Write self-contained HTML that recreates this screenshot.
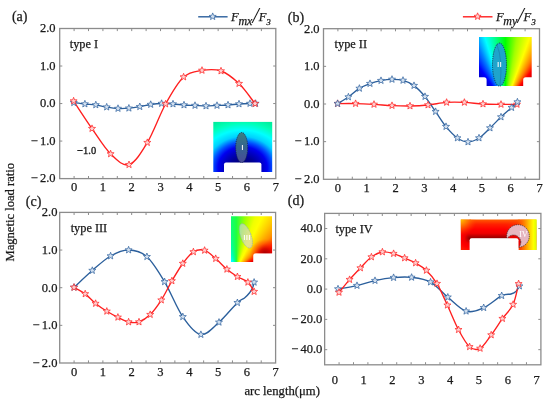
<!DOCTYPE html>
<html><head><meta charset="utf-8"><style>
html,body{margin:0;padding:0;background:#fff;}
#w{position:relative;width:550px;height:404px;overflow:hidden;background:#fff;}
.ins{position:absolute;}
svg{position:absolute;left:0;top:0;}
text{font-family:"Liberation Serif","Times New Roman",serif;fill:#1a1a1a;stroke:#1a1a1a;stroke-width:0.25px;}
.tl{font-size:12.5px;}
.pl{font-size:14px;}
.ty{font-size:12.3px;}
.lg{font-size:12.6px;font-style:italic;}
.sb{font-size:12px;font-style:italic;}
.sl{font-size:22.3px;font-style:italic;stroke:none;}
.s3{font-size:9px;font-style:italic;}
</style></head><body><div id="w">
<div class="ins" style="left:478.6px;top:36.7px;width:53.1px;height:49.5px;background:conic-gradient(from -60deg at 26.4px 67.3px,#00008f 0deg,#0000c0 15deg,#0000ff 25deg,#0080ff 35deg,#00ffff 43deg,#00ff80 52deg,#00ff00 60deg,#a0ff00 70deg,#ffff00 80deg,#ff8000 90deg,#ff0000 98deg,#c00000 107deg,#900000 120deg,#900000 240deg,#00008f 240deg);clip-path:path('M0,0 H53.1 V40.6 H47.1 A2.5,2.5 0 0 0 44.6,43.1 V49.5 H8 V43.1 A2.5,2.5 0 0 0 5.5,40.6 H0 Z');"></div>
<div class="ins" style="left:230.6px;top:216.2px;width:41.6px;height:46.1px;background:conic-gradient(from -60deg at 5.4px 53.8px,#00ffff 0deg,#00ffff 33deg,#00ffa0 48deg,#20ff40 60deg,#a0ff00 70deg,#f0ff00 80deg,#ffff00 86deg,#ffd000 95deg,#ff9000 106deg,#ff3000 115deg,#f00000 121deg,#c00000 128deg,#a00000 150deg,#a00000 360deg);clip-path:path('M0,0 H41.6 V37.1 H25.1 A2.5,2.5 0 0 0 22.6,39.6 V46.1 H0 Z');"></div>
<svg width="550" height="404" viewBox="0 0 550 404">
<!-- inset overlays -->
<defs>
<radialGradient id="ga" gradientUnits="userSpaceOnUse" cx="0" cy="0" r="1.45" gradientTransform="translate(242.7,168) scale(43.9,38)"><stop offset="0.0000" stop-color="#000060"/><stop offset="0.2069" stop-color="#000098"/><stop offset="0.3103" stop-color="#0000c8"/><stop offset="0.3862" stop-color="#0000f0"/><stop offset="0.4690" stop-color="#0050ff"/><stop offset="0.5724" stop-color="#00d0ff"/><stop offset="0.6897" stop-color="#00ffff"/><stop offset="0.8138" stop-color="#00ffb8"/><stop offset="0.9103" stop-color="#00f0a0"/><stop offset="1.0000" stop-color="#00e890"/></radialGradient>
<radialGradient id="gdl" gradientUnits="userSpaceOnUse" cx="469.6" cy="238.3" r="26"><stop offset="0.0000" stop-color="#900000"/><stop offset="0.0962" stop-color="#c00000"/><stop offset="0.1923" stop-color="#ee0000"/><stop offset="0.3462" stop-color="#ff0000"/><stop offset="0.5385" stop-color="#ff2000"/><stop offset="0.6923" stop-color="#ff5000"/><stop offset="0.7692" stop-color="#ff8000"/><stop offset="0.8846" stop-color="#ffb000"/><stop offset="1.0000" stop-color="#ffd000"/></radialGradient>
<radialGradient id="gdr" gradientUnits="userSpaceOnUse" cx="518.5" cy="238.3" r="26"><stop offset="0.0000" stop-color="#900000"/><stop offset="0.0962" stop-color="#c00000"/><stop offset="0.1923" stop-color="#ee0000"/><stop offset="0.3462" stop-color="#ff0000"/><stop offset="0.5385" stop-color="#ff2000"/><stop offset="0.6923" stop-color="#ff5000"/><stop offset="0.7692" stop-color="#ff8000"/><stop offset="0.8846" stop-color="#ffb000"/><stop offset="1.0000" stop-color="#ffd000"/></radialGradient>
<linearGradient id="gdm" gradientUnits="userSpaceOnUse" x1="0" y1="238.3" x2="0" y2="212.3"><stop offset="0.0000" stop-color="#900000"/><stop offset="0.0962" stop-color="#c00000"/><stop offset="0.1923" stop-color="#ee0000"/><stop offset="0.3462" stop-color="#ff0000"/><stop offset="0.5385" stop-color="#ff2000"/><stop offset="0.6923" stop-color="#ff5000"/><stop offset="0.7692" stop-color="#ff8000"/><stop offset="0.8846" stop-color="#ffb000"/><stop offset="1.0000" stop-color="#ffd000"/></linearGradient>
<linearGradient id="gdo" gradientUnits="userSpaceOnUse" x1="505" y1="0" x2="536.5" y2="0"><stop offset="0" stop-color="#ff4000" stop-opacity="0"/><stop offset="0.35" stop-color="#ff5000" stop-opacity="0.25"/><stop offset="0.55" stop-color="#ff7800" stop-opacity="0.8"/><stop offset="0.75" stop-color="#ffc000" stop-opacity="1"/><stop offset="0.9" stop-color="#ffff00" stop-opacity="1"/><stop offset="1" stop-color="#d8ff00" stop-opacity="1"/></linearGradient>
<radialGradient id="gdtl" gradientUnits="userSpaceOnUse" cx="460.8" cy="219.5" r="16"><stop offset="0" stop-color="#ffc800" stop-opacity="0.95"/><stop offset="0.45" stop-color="#ff9000" stop-opacity="0.6"/><stop offset="1" stop-color="#ff5000" stop-opacity="0"/></radialGradient>
<radialGradient id="gcn" gradientUnits="userSpaceOnUse" cx="265" cy="254" r="15"><stop offset="0" stop-color="#a00000" stop-opacity="1"/><stop offset="0.35" stop-color="#d00000" stop-opacity="0.85"/><stop offset="0.7" stop-color="#ff1000" stop-opacity="0.35"/><stop offset="1" stop-color="#ff2000" stop-opacity="0"/></radialGradient>
</defs>
<rect x="213.3" y="121.9" width="58.9" height="50.1" fill="url(#ga)"/>
<rect x="224" y="162.6" width="37.4" height="11" rx="2" fill="#fff"/>
<rect x="460.8" y="219.5" width="9.8" height="30.5" fill="url(#gdl)"/>
<rect x="518.5" y="219.5" width="18" height="30.5" fill="url(#gdr)"/>
<rect x="469.6" y="219.5" width="49.9" height="19.3" fill="url(#gdm)"/>
<rect x="505" y="219.5" width="31.5" height="30.5" fill="url(#gdo)"/>
<rect x="460.8" y="219.5" width="20" height="20" fill="url(#gdtl)"/>
<path d="M230.6,216.2 H272.2 V253.3 H255.7 A2.5,2.5 0 0 0 253.2,255.8 V262.3 H230.6 Z" fill="url(#gcn)"/>
<defs><linearGradient id="ea" x1="0" y1="0" x2="0" y2="1"><stop offset="0" stop-color="#3b8080"/><stop offset="0.5" stop-color="#36648f"/><stop offset="1" stop-color="#4a4a98"/></linearGradient></defs>
<ellipse cx="241.7" cy="147.5" rx="6" ry="15" fill="url(#ea)" stroke="#1a2a50" stroke-width="0.9" stroke-dasharray="1.2 1"/>
<text x="242.5" y="150" text-anchor="middle" style="font-family:'Liberation Sans',sans-serif;font-size:6.5px;fill:#fff;stroke:none;font-weight:bold">I</text>
<ellipse cx="499.5" cy="64.6" rx="7" ry="21.5" fill="#1ea4cc" stroke="#1a2a50" stroke-width="0.9" stroke-dasharray="1.2 1"/>
<path d="M497,45 Q503,60 500,85" stroke="#1a7aa8" stroke-width="0.6" fill="none"/>
<text x="499.7" y="67" text-anchor="middle" style="font-family:'Liberation Sans',sans-serif;font-size:6.5px;fill:#fff;stroke:none;font-weight:bold;letter-spacing:0.6px">II</text>
<ellipse cx="245.9" cy="235.9" rx="5.2" ry="12.8" transform="rotate(-20 245.9 235.9)" fill="#d4d4e0" fill-opacity="0.62" stroke="#8aa8c8" stroke-width="0.7" stroke-dasharray="1 0.8"/>
<text x="247.3" y="239.5" text-anchor="middle" style="font-family:'Liberation Sans',sans-serif;font-size:6.5px;fill:#fff;stroke:none;font-weight:bold;letter-spacing:0.8px">III</text>
<circle cx="518" cy="236" r="11.3" fill="#e6b6c0" stroke="#333" stroke-width="0.8" stroke-dasharray="1.2 1"/>
<circle cx="513.5" cy="242.3" r="7.3" fill="#e80000" stroke="#333" stroke-width="0.8" stroke-dasharray="1.2 1"/>
<rect x="469.6" y="238.3" width="48.9" height="13" rx="2" fill="#fff"/>
<text x="523.5" y="237" text-anchor="middle" style="font-size:8.5px;fill:#fff;stroke:none">IV</text>
<rect x="59.7" y="28.5" width="216.1" height="150.1" fill="none" stroke="#8c8c8c" stroke-width="1.3"/>
<path d="M74.1,178.6 v-2.6 M74.1,28.5 v2.6 M88.5,178.6 v-2.6 M88.5,28.5 v2.6 M102.91,178.6 v-2.6 M102.91,28.5 v2.6 M117.31,178.6 v-2.6 M117.31,28.5 v2.6 M131.72,178.6 v-2.6 M131.72,28.5 v2.6 M146.12,178.6 v-2.6 M146.12,28.5 v2.6 M160.53,178.6 v-2.6 M160.53,28.5 v2.6 M174.94,178.6 v-2.6 M174.94,28.5 v2.6 M189.34,178.6 v-2.6 M189.34,28.5 v2.6 M203.74,178.6 v-2.6 M203.74,28.5 v2.6 M218.15,178.6 v-2.6 M218.15,28.5 v2.6 M232.55,178.6 v-2.6 M232.55,28.5 v2.6 M246.96,178.6 v-2.6 M246.96,28.5 v2.6 M261.37,178.6 v-2.6 M261.37,28.5 v2.6 M59.7,66.03 h2.6 M275.8,66.03 h-2.6 M59.7,103.55 h2.6 M275.8,103.55 h-2.6 M59.7,141.07 h2.6 M275.8,141.07 h-2.6" stroke="#8c8c8c" stroke-width="1" fill="none"/>
<text x="74.1" y="191.4" text-anchor="middle" class="tl">0</text>
<text x="102.91" y="191.4" text-anchor="middle" class="tl">1</text>
<text x="131.72" y="191.4" text-anchor="middle" class="tl">2</text>
<text x="160.53" y="191.4" text-anchor="middle" class="tl">3</text>
<text x="189.34" y="191.4" text-anchor="middle" class="tl">4</text>
<text x="218.15" y="191.4" text-anchor="middle" class="tl">5</text>
<text x="246.96" y="191.4" text-anchor="middle" class="tl">6</text>
<text x="275.77" y="191.4" text-anchor="middle" class="tl">7</text>
<text x="55.6" y="32.3" text-anchor="end" class="tl">2.0</text>
<text x="55.6" y="69.83" text-anchor="end" class="tl">1.0</text>
<text x="55.6" y="107.35" text-anchor="end" class="tl">0.0</text>
<text x="55.6" y="144.88" text-anchor="end" class="tl">−<tspan dx="2.2">1.0</tspan></text>
<text x="55.6" y="182.4" text-anchor="end" class="tl">−<tspan dx="2.2">2.0</tspan></text>
<rect x="323.5" y="28.7" width="216" height="150.6" fill="none" stroke="#8c8c8c" stroke-width="1.3"/>
<path d="M337.9,179.3 v-2.6 M337.9,28.7 v2.6 M352.3,179.3 v-2.6 M352.3,28.7 v2.6 M366.7,179.3 v-2.6 M366.7,28.7 v2.6 M381.1,179.3 v-2.6 M381.1,28.7 v2.6 M395.5,179.3 v-2.6 M395.5,28.7 v2.6 M409.9,179.3 v-2.6 M409.9,28.7 v2.6 M424.3,179.3 v-2.6 M424.3,28.7 v2.6 M438.7,179.3 v-2.6 M438.7,28.7 v2.6 M453.1,179.3 v-2.6 M453.1,28.7 v2.6 M467.5,179.3 v-2.6 M467.5,28.7 v2.6 M481.9,179.3 v-2.6 M481.9,28.7 v2.6 M496.3,179.3 v-2.6 M496.3,28.7 v2.6 M510.7,179.3 v-2.6 M510.7,28.7 v2.6 M525.1,179.3 v-2.6 M525.1,28.7 v2.6 M323.5,66.35 h2.6 M539.5,66.35 h-2.6 M323.5,104 h2.6 M539.5,104 h-2.6 M323.5,141.65 h2.6 M539.5,141.65 h-2.6" stroke="#8c8c8c" stroke-width="1" fill="none"/>
<text x="337.9" y="191.7" text-anchor="middle" class="tl">0</text>
<text x="366.7" y="191.7" text-anchor="middle" class="tl">1</text>
<text x="395.5" y="191.7" text-anchor="middle" class="tl">2</text>
<text x="424.3" y="191.7" text-anchor="middle" class="tl">3</text>
<text x="453.1" y="191.7" text-anchor="middle" class="tl">4</text>
<text x="481.9" y="191.7" text-anchor="middle" class="tl">5</text>
<text x="510.7" y="191.7" text-anchor="middle" class="tl">6</text>
<text x="539.5" y="191.7" text-anchor="middle" class="tl">7</text>
<text x="319.5" y="32.5" text-anchor="end" class="tl">2.0</text>
<text x="319.5" y="70.15" text-anchor="end" class="tl">1.0</text>
<text x="319.5" y="107.8" text-anchor="end" class="tl">0.0</text>
<text x="319.5" y="145.45" text-anchor="end" class="tl">−<tspan dx="2.2">1.0</tspan></text>
<text x="319.5" y="183.1" text-anchor="end" class="tl">−<tspan dx="2.2">2.0</tspan></text>
<rect x="59.7" y="212.4" width="215.9" height="150.6" fill="none" stroke="#8c8c8c" stroke-width="1.3"/>
<path d="M74.09,363 v-2.6 M74.09,212.4 v2.6 M88.48,363 v-2.6 M88.48,212.4 v2.6 M102.88,363 v-2.6 M102.88,212.4 v2.6 M117.28,363 v-2.6 M117.28,212.4 v2.6 M131.67,363 v-2.6 M131.67,212.4 v2.6 M146.06,363 v-2.6 M146.06,212.4 v2.6 M160.46,363 v-2.6 M160.46,212.4 v2.6 M174.86,363 v-2.6 M174.86,212.4 v2.6 M189.25,363 v-2.6 M189.25,212.4 v2.6 M203.65,363 v-2.6 M203.65,212.4 v2.6 M218.04,363 v-2.6 M218.04,212.4 v2.6 M232.44,363 v-2.6 M232.44,212.4 v2.6 M246.83,363 v-2.6 M246.83,212.4 v2.6 M261.23,363 v-2.6 M261.23,212.4 v2.6 M59.7,250.05 h2.6 M275.6,250.05 h-2.6 M59.7,287.7 h2.6 M275.6,287.7 h-2.6 M59.7,325.35 h2.6 M275.6,325.35 h-2.6" stroke="#8c8c8c" stroke-width="1" fill="none"/>
<text x="74.09" y="375.8" text-anchor="middle" class="tl">0</text>
<text x="102.88" y="375.8" text-anchor="middle" class="tl">1</text>
<text x="131.67" y="375.8" text-anchor="middle" class="tl">2</text>
<text x="160.46" y="375.8" text-anchor="middle" class="tl">3</text>
<text x="189.25" y="375.8" text-anchor="middle" class="tl">4</text>
<text x="218.04" y="375.8" text-anchor="middle" class="tl">5</text>
<text x="246.83" y="375.8" text-anchor="middle" class="tl">6</text>
<text x="275.62" y="375.8" text-anchor="middle" class="tl">7</text>
<text x="57.4" y="216.2" text-anchor="end" class="tl">2.0</text>
<text x="57.4" y="253.85" text-anchor="end" class="tl">1.0</text>
<text x="57.4" y="291.5" text-anchor="end" class="tl">0.0</text>
<text x="57.4" y="329.15" text-anchor="end" class="tl">−<tspan dx="2.2">1.0</tspan></text>
<text x="57.4" y="366.8" text-anchor="end" class="tl">−<tspan dx="2.2">2.0</tspan></text>
<rect x="324.65" y="213.4" width="216.25" height="151.4" fill="none" stroke="#8c8c8c" stroke-width="1.3"/>
<path d="M339.07,364.8 v-2.6 M339.07,213.4 v2.6 M353.49,364.8 v-2.6 M353.49,213.4 v2.6 M367.9,364.8 v-2.6 M367.9,213.4 v2.6 M382.31,364.8 v-2.6 M382.31,213.4 v2.6 M396.73,364.8 v-2.6 M396.73,213.4 v2.6 M411.14,364.8 v-2.6 M411.14,213.4 v2.6 M425.56,364.8 v-2.6 M425.56,213.4 v2.6 M439.98,364.8 v-2.6 M439.98,213.4 v2.6 M454.39,364.8 v-2.6 M454.39,213.4 v2.6 M468.8,364.8 v-2.6 M468.8,213.4 v2.6 M483.22,364.8 v-2.6 M483.22,213.4 v2.6 M497.63,364.8 v-2.6 M497.63,213.4 v2.6 M512.05,364.8 v-2.6 M512.05,213.4 v2.6 M526.46,364.8 v-2.6 M526.46,213.4 v2.6 M324.65,228.54 h2.6 M540.9,228.54 h-2.6 M324.65,258.82 h2.6 M540.9,258.82 h-2.6 M324.65,289.1 h2.6 M540.9,289.1 h-2.6 M324.65,319.38 h2.6 M540.9,319.38 h-2.6 M324.65,349.66 h2.6 M540.9,349.66 h-2.6" stroke="#8c8c8c" stroke-width="1" fill="none"/>
<text x="334.77" y="384" text-anchor="middle" class="tl">0</text>
<text x="363.6" y="384" text-anchor="middle" class="tl">1</text>
<text x="392.43" y="384" text-anchor="middle" class="tl">2</text>
<text x="421.26" y="384" text-anchor="middle" class="tl">3</text>
<text x="450.09" y="384" text-anchor="middle" class="tl">4</text>
<text x="478.92" y="384" text-anchor="middle" class="tl">5</text>
<text x="507.75" y="384" text-anchor="middle" class="tl">6</text>
<text x="536.58" y="384" text-anchor="middle" class="tl">7</text>
<text x="322.35" y="232.34" text-anchor="end" class="tl">40.0</text>
<text x="322.35" y="262.62" text-anchor="end" class="tl">20.0</text>
<text x="322.35" y="292.9" text-anchor="end" class="tl">0.0</text>
<text x="322.35" y="323.18" text-anchor="end" class="tl">−<tspan dx="2.2">20.0</tspan></text>
<text x="322.35" y="353.46" text-anchor="end" class="tl">−<tspan dx="2.2">40.0</tspan></text>
<path d="M73.8,102.7 C75.65,102.92 81.23,103.63 84.9,104 C88.57,104.37 92.17,104.38 95.8,104.9 C99.43,105.42 103,106.5 106.7,107.1 C110.4,107.7 114.3,108.32 118,108.5 C121.7,108.68 125.27,108.5 128.9,108.2 C132.53,107.9 136.17,107.32 139.8,106.7 C143.43,106.08 147.07,105.03 150.7,104.5 C154.33,103.97 157.88,103.58 161.6,103.5 C165.32,103.42 169.27,103.75 173,104 C176.73,104.25 180.33,104.75 184,105 C187.67,105.25 191.33,105.33 195,105.5 C198.67,105.67 202.33,106 206,106 C209.67,106 213.33,105.67 217,105.5 C220.67,105.33 224.33,105.25 228,105 C231.67,104.75 235.33,104.25 239,104 C242.67,103.75 247.23,103.58 250,103.5 C252.77,103.42 254.67,103.5 255.6,103.5" fill="none" stroke="#2b5f9c" stroke-width="1.35" stroke-linejoin="round"/>
<path d="M73.6,101 C76.67,105.6 85.83,119.78 92,128.6 C98.17,137.42 104.43,147.88 110.6,153.9 C116.77,159.92 122.88,166.58 129,164.7 C135.12,162.82 141.2,152.72 147.3,142.6 C153.4,132.48 159.55,114.93 165.6,104 C171.65,93.07 177.53,82.6 183.6,77 C189.67,71.4 195.77,71.4 202,70.4 C208.23,69.4 214.83,68.8 221,71 C227.17,73.2 233.33,78.17 239,83.6 C244.67,89.03 252.33,100.27 255,103.6" fill="none" stroke="#ff1f1f" stroke-width="1.35" stroke-linejoin="round"/>
<polygon points="73.8,99 74.74,101.41 77.32,101.56 75.32,103.19 75.97,105.69 73.8,104.3 71.63,105.69 72.28,103.19 70.28,101.56 72.86,101.41" fill="#d2e0f0" stroke="#2b5f9c" stroke-width="0.7"/>
<polygon points="84.9,100.3 85.84,102.71 88.42,102.86 86.42,104.49 87.07,106.99 84.9,105.6 82.73,106.99 83.38,104.49 81.38,102.86 83.96,102.71" fill="#d2e0f0" stroke="#2b5f9c" stroke-width="0.7"/>
<polygon points="95.8,101.2 96.74,103.61 99.32,103.76 97.32,105.39 97.97,107.89 95.8,106.5 93.63,107.89 94.28,105.39 92.28,103.76 94.86,103.61" fill="#d2e0f0" stroke="#2b5f9c" stroke-width="0.7"/>
<polygon points="106.7,103.4 107.64,105.81 110.22,105.96 108.22,107.59 108.87,110.09 106.7,108.7 104.53,110.09 105.18,107.59 103.18,105.96 105.76,105.81" fill="#d2e0f0" stroke="#2b5f9c" stroke-width="0.7"/>
<polygon points="118,104.8 118.94,107.21 121.52,107.36 119.52,108.99 120.17,111.49 118,110.1 115.83,111.49 116.48,108.99 114.48,107.36 117.06,107.21" fill="#d2e0f0" stroke="#2b5f9c" stroke-width="0.7"/>
<polygon points="128.9,104.5 129.84,106.91 132.42,107.06 130.42,108.69 131.07,111.19 128.9,109.8 126.73,111.19 127.38,108.69 125.38,107.06 127.96,106.91" fill="#d2e0f0" stroke="#2b5f9c" stroke-width="0.7"/>
<polygon points="139.8,103 140.74,105.41 143.32,105.56 141.32,107.19 141.97,109.69 139.8,108.3 137.63,109.69 138.28,107.19 136.28,105.56 138.86,105.41" fill="#d2e0f0" stroke="#2b5f9c" stroke-width="0.7"/>
<polygon points="150.7,100.8 151.64,103.21 154.22,103.36 152.22,104.99 152.87,107.49 150.7,106.1 148.53,107.49 149.18,104.99 147.18,103.36 149.76,103.21" fill="#d2e0f0" stroke="#2b5f9c" stroke-width="0.7"/>
<polygon points="161.6,99.8 162.54,102.21 165.12,102.36 163.12,103.99 163.77,106.49 161.6,105.1 159.43,106.49 160.08,103.99 158.08,102.36 160.66,102.21" fill="#d2e0f0" stroke="#2b5f9c" stroke-width="0.7"/>
<polygon points="173,100.3 173.94,102.71 176.52,102.86 174.52,104.49 175.17,106.99 173,105.6 170.83,106.99 171.48,104.49 169.48,102.86 172.06,102.71" fill="#d2e0f0" stroke="#2b5f9c" stroke-width="0.7"/>
<polygon points="184,101.3 184.94,103.71 187.52,103.86 185.52,105.49 186.17,107.99 184,106.6 181.83,107.99 182.48,105.49 180.48,103.86 183.06,103.71" fill="#d2e0f0" stroke="#2b5f9c" stroke-width="0.7"/>
<polygon points="195,101.8 195.94,104.21 198.52,104.36 196.52,105.99 197.17,108.49 195,107.1 192.83,108.49 193.48,105.99 191.48,104.36 194.06,104.21" fill="#d2e0f0" stroke="#2b5f9c" stroke-width="0.7"/>
<polygon points="206,102.3 206.94,104.71 209.52,104.86 207.52,106.49 208.17,108.99 206,107.6 203.83,108.99 204.48,106.49 202.48,104.86 205.06,104.71" fill="#d2e0f0" stroke="#2b5f9c" stroke-width="0.7"/>
<polygon points="217,101.8 217.94,104.21 220.52,104.36 218.52,105.99 219.17,108.49 217,107.1 214.83,108.49 215.48,105.99 213.48,104.36 216.06,104.21" fill="#d2e0f0" stroke="#2b5f9c" stroke-width="0.7"/>
<polygon points="228,101.3 228.94,103.71 231.52,103.86 229.52,105.49 230.17,107.99 228,106.6 225.83,107.99 226.48,105.49 224.48,103.86 227.06,103.71" fill="#d2e0f0" stroke="#2b5f9c" stroke-width="0.7"/>
<polygon points="239,100.3 239.94,102.71 242.52,102.86 240.52,104.49 241.17,106.99 239,105.6 236.83,106.99 237.48,104.49 235.48,102.86 238.06,102.71" fill="#d2e0f0" stroke="#2b5f9c" stroke-width="0.7"/>
<polygon points="250,99.8 250.94,102.21 253.52,102.36 251.52,103.99 252.17,106.49 250,105.1 247.83,106.49 248.48,103.99 246.48,102.36 249.06,102.21" fill="#d2e0f0" stroke="#2b5f9c" stroke-width="0.7"/>
<polygon points="255.6,99.8 256.54,102.21 259.12,102.36 257.12,103.99 257.77,106.49 255.6,105.1 253.43,106.49 254.08,103.99 252.08,102.36 254.66,102.21" fill="#d2e0f0" stroke="#2b5f9c" stroke-width="0.7"/>
<polygon points="73.6,97.3 74.54,99.71 77.12,99.86 75.12,101.49 75.77,103.99 73.6,102.6 71.43,103.99 72.08,101.49 70.08,99.86 72.66,99.71" fill="#ffd0d0" stroke="#ff1f1f" stroke-width="0.7"/>
<polygon points="92,124.9 92.94,127.31 95.52,127.46 93.52,129.09 94.17,131.59 92,130.2 89.83,131.59 90.48,129.09 88.48,127.46 91.06,127.31" fill="#ffd0d0" stroke="#ff1f1f" stroke-width="0.7"/>
<polygon points="110.6,150.2 111.54,152.61 114.12,152.76 112.12,154.39 112.77,156.89 110.6,155.5 108.43,156.89 109.08,154.39 107.08,152.76 109.66,152.61" fill="#ffd0d0" stroke="#ff1f1f" stroke-width="0.7"/>
<polygon points="129,161 129.94,163.41 132.52,163.56 130.52,165.19 131.17,167.69 129,166.3 126.83,167.69 127.48,165.19 125.48,163.56 128.06,163.41" fill="#ffd0d0" stroke="#ff1f1f" stroke-width="0.7"/>
<polygon points="147.3,138.9 148.24,141.31 150.82,141.46 148.82,143.09 149.47,145.59 147.3,144.2 145.13,145.59 145.78,143.09 143.78,141.46 146.36,141.31" fill="#ffd0d0" stroke="#ff1f1f" stroke-width="0.7"/>
<polygon points="165.6,100.3 166.54,102.71 169.12,102.86 167.12,104.49 167.77,106.99 165.6,105.6 163.43,106.99 164.08,104.49 162.08,102.86 164.66,102.71" fill="#ffd0d0" stroke="#ff1f1f" stroke-width="0.7"/>
<polygon points="183.6,73.3 184.54,75.71 187.12,75.86 185.12,77.49 185.77,79.99 183.6,78.6 181.43,79.99 182.08,77.49 180.08,75.86 182.66,75.71" fill="#ffd0d0" stroke="#ff1f1f" stroke-width="0.7"/>
<polygon points="202,66.7 202.94,69.11 205.52,69.26 203.52,70.89 204.17,73.39 202,72 199.83,73.39 200.48,70.89 198.48,69.26 201.06,69.11" fill="#ffd0d0" stroke="#ff1f1f" stroke-width="0.7"/>
<polygon points="221,67.3 221.94,69.71 224.52,69.86 222.52,71.49 223.17,73.99 221,72.6 218.83,73.99 219.48,71.49 217.48,69.86 220.06,69.71" fill="#ffd0d0" stroke="#ff1f1f" stroke-width="0.7"/>
<polygon points="239,79.9 239.94,82.31 242.52,82.46 240.52,84.09 241.17,86.59 239,85.2 236.83,86.59 237.48,84.09 235.48,82.46 238.06,82.31" fill="#ffd0d0" stroke="#ff1f1f" stroke-width="0.7"/>
<polygon points="255,99.9 255.94,102.31 258.52,102.46 256.52,104.09 257.17,106.59 255,105.2 252.83,106.59 253.48,104.09 251.48,102.46 254.06,102.31" fill="#ffd0d0" stroke="#ff1f1f" stroke-width="0.7"/>
<path d="M337.6,103.6 C340.6,103.6 349.53,103.47 355.6,103.6 C361.67,103.73 367.93,104.07 374,104.4 C380.07,104.73 386,105.33 392,105.6 C398,105.87 404,106.1 410,106 C416,105.9 421.9,105.6 428,105 C434.1,104.4 440.53,102.83 446.6,102.4 C452.67,101.97 458.33,102.13 464.4,102.4 C470.47,102.67 476.9,103.67 483,104 C489.1,104.33 495.33,104.33 501,104.4 C506.67,104.47 514.33,104.4 517,104.4" fill="none" stroke="#ff1f1f" stroke-width="1.35" stroke-linejoin="round"/>
<path d="M337.6,103.6 C339.4,102.5 344.77,99.53 348.4,97 C352.03,94.47 355.8,90.63 359.4,88.4 C363,86.17 366.4,84.9 370,83.6 C373.6,82.3 377.33,81.3 381,80.6 C384.67,79.9 388.33,79.43 392,79.4 C395.67,79.37 399.33,79.37 403,80.4 C406.67,81.43 410.33,82.9 414,85.6 C417.67,88.3 421.4,92.27 425,96.6 C428.6,100.93 432.1,106.6 435.6,111.6 C439.1,116.6 442.37,122.2 446,126.6 C449.63,131 453.73,135.43 457.4,138 C461.07,140.57 464.4,142 468,142 C471.6,142 475.33,140.33 479,138 C482.67,135.67 486.33,131.5 490,128 C493.67,124.5 497.4,120.4 501,117 C504.6,113.6 508.87,110.1 511.6,107.6 C514.33,105.1 516.43,102.93 517.4,102" fill="none" stroke="#2b5f9c" stroke-width="1.35" stroke-linejoin="round"/>
<polygon points="337.6,99.9 338.54,102.31 341.12,102.46 339.12,104.09 339.77,106.59 337.6,105.2 335.43,106.59 336.08,104.09 334.08,102.46 336.66,102.31" fill="#ffd0d0" stroke="#ff1f1f" stroke-width="0.7"/>
<polygon points="355.6,99.9 356.54,102.31 359.12,102.46 357.12,104.09 357.77,106.59 355.6,105.2 353.43,106.59 354.08,104.09 352.08,102.46 354.66,102.31" fill="#ffd0d0" stroke="#ff1f1f" stroke-width="0.7"/>
<polygon points="374,100.7 374.94,103.11 377.52,103.26 375.52,104.89 376.17,107.39 374,106 371.83,107.39 372.48,104.89 370.48,103.26 373.06,103.11" fill="#ffd0d0" stroke="#ff1f1f" stroke-width="0.7"/>
<polygon points="392,101.9 392.94,104.31 395.52,104.46 393.52,106.09 394.17,108.59 392,107.2 389.83,108.59 390.48,106.09 388.48,104.46 391.06,104.31" fill="#ffd0d0" stroke="#ff1f1f" stroke-width="0.7"/>
<polygon points="410,102.3 410.94,104.71 413.52,104.86 411.52,106.49 412.17,108.99 410,107.6 407.83,108.99 408.48,106.49 406.48,104.86 409.06,104.71" fill="#ffd0d0" stroke="#ff1f1f" stroke-width="0.7"/>
<polygon points="428,101.3 428.94,103.71 431.52,103.86 429.52,105.49 430.17,107.99 428,106.6 425.83,107.99 426.48,105.49 424.48,103.86 427.06,103.71" fill="#ffd0d0" stroke="#ff1f1f" stroke-width="0.7"/>
<polygon points="446.6,98.7 447.54,101.11 450.12,101.26 448.12,102.89 448.77,105.39 446.6,104 444.43,105.39 445.08,102.89 443.08,101.26 445.66,101.11" fill="#ffd0d0" stroke="#ff1f1f" stroke-width="0.7"/>
<polygon points="464.4,98.7 465.34,101.11 467.92,101.26 465.92,102.89 466.57,105.39 464.4,104 462.23,105.39 462.88,102.89 460.88,101.26 463.46,101.11" fill="#ffd0d0" stroke="#ff1f1f" stroke-width="0.7"/>
<polygon points="483,100.3 483.94,102.71 486.52,102.86 484.52,104.49 485.17,106.99 483,105.6 480.83,106.99 481.48,104.49 479.48,102.86 482.06,102.71" fill="#ffd0d0" stroke="#ff1f1f" stroke-width="0.7"/>
<polygon points="501,100.7 501.94,103.11 504.52,103.26 502.52,104.89 503.17,107.39 501,106 498.83,107.39 499.48,104.89 497.48,103.26 500.06,103.11" fill="#ffd0d0" stroke="#ff1f1f" stroke-width="0.7"/>
<polygon points="517,100.7 517.94,103.11 520.52,103.26 518.52,104.89 519.17,107.39 517,106 514.83,107.39 515.48,104.89 513.48,103.26 516.06,103.11" fill="#ffd0d0" stroke="#ff1f1f" stroke-width="0.7"/>
<polygon points="337.6,99.9 338.54,102.31 341.12,102.46 339.12,104.09 339.77,106.59 337.6,105.2 335.43,106.59 336.08,104.09 334.08,102.46 336.66,102.31" fill="#d2e0f0" stroke="#2b5f9c" stroke-width="0.7"/>
<polygon points="348.4,93.3 349.34,95.71 351.92,95.86 349.92,97.49 350.57,99.99 348.4,98.6 346.23,99.99 346.88,97.49 344.88,95.86 347.46,95.71" fill="#d2e0f0" stroke="#2b5f9c" stroke-width="0.7"/>
<polygon points="359.4,84.7 360.34,87.11 362.92,87.26 360.92,88.89 361.57,91.39 359.4,90 357.23,91.39 357.88,88.89 355.88,87.26 358.46,87.11" fill="#d2e0f0" stroke="#2b5f9c" stroke-width="0.7"/>
<polygon points="370,79.9 370.94,82.31 373.52,82.46 371.52,84.09 372.17,86.59 370,85.2 367.83,86.59 368.48,84.09 366.48,82.46 369.06,82.31" fill="#d2e0f0" stroke="#2b5f9c" stroke-width="0.7"/>
<polygon points="381,76.9 381.94,79.31 384.52,79.46 382.52,81.09 383.17,83.59 381,82.2 378.83,83.59 379.48,81.09 377.48,79.46 380.06,79.31" fill="#d2e0f0" stroke="#2b5f9c" stroke-width="0.7"/>
<polygon points="392,75.7 392.94,78.11 395.52,78.26 393.52,79.89 394.17,82.39 392,81 389.83,82.39 390.48,79.89 388.48,78.26 391.06,78.11" fill="#d2e0f0" stroke="#2b5f9c" stroke-width="0.7"/>
<polygon points="403,76.7 403.94,79.11 406.52,79.26 404.52,80.89 405.17,83.39 403,82 400.83,83.39 401.48,80.89 399.48,79.26 402.06,79.11" fill="#d2e0f0" stroke="#2b5f9c" stroke-width="0.7"/>
<polygon points="414,81.9 414.94,84.31 417.52,84.46 415.52,86.09 416.17,88.59 414,87.2 411.83,88.59 412.48,86.09 410.48,84.46 413.06,84.31" fill="#d2e0f0" stroke="#2b5f9c" stroke-width="0.7"/>
<polygon points="425,92.9 425.94,95.31 428.52,95.46 426.52,97.09 427.17,99.59 425,98.2 422.83,99.59 423.48,97.09 421.48,95.46 424.06,95.31" fill="#d2e0f0" stroke="#2b5f9c" stroke-width="0.7"/>
<polygon points="435.6,107.9 436.54,110.31 439.12,110.46 437.12,112.09 437.77,114.59 435.6,113.2 433.43,114.59 434.08,112.09 432.08,110.46 434.66,110.31" fill="#d2e0f0" stroke="#2b5f9c" stroke-width="0.7"/>
<polygon points="446,122.9 446.94,125.31 449.52,125.46 447.52,127.09 448.17,129.59 446,128.2 443.83,129.59 444.48,127.09 442.48,125.46 445.06,125.31" fill="#d2e0f0" stroke="#2b5f9c" stroke-width="0.7"/>
<polygon points="457.4,134.3 458.34,136.71 460.92,136.86 458.92,138.49 459.57,140.99 457.4,139.6 455.23,140.99 455.88,138.49 453.88,136.86 456.46,136.71" fill="#d2e0f0" stroke="#2b5f9c" stroke-width="0.7"/>
<polygon points="468,138.3 468.94,140.71 471.52,140.86 469.52,142.49 470.17,144.99 468,143.6 465.83,144.99 466.48,142.49 464.48,140.86 467.06,140.71" fill="#d2e0f0" stroke="#2b5f9c" stroke-width="0.7"/>
<polygon points="479,134.3 479.94,136.71 482.52,136.86 480.52,138.49 481.17,140.99 479,139.6 476.83,140.99 477.48,138.49 475.48,136.86 478.06,136.71" fill="#d2e0f0" stroke="#2b5f9c" stroke-width="0.7"/>
<polygon points="490,124.3 490.94,126.71 493.52,126.86 491.52,128.49 492.17,130.99 490,129.6 487.83,130.99 488.48,128.49 486.48,126.86 489.06,126.71" fill="#d2e0f0" stroke="#2b5f9c" stroke-width="0.7"/>
<polygon points="501,113.3 501.94,115.71 504.52,115.86 502.52,117.49 503.17,119.99 501,118.6 498.83,119.99 499.48,117.49 497.48,115.86 500.06,115.71" fill="#d2e0f0" stroke="#2b5f9c" stroke-width="0.7"/>
<polygon points="511.6,103.9 512.54,106.31 515.12,106.46 513.12,108.09 513.77,110.59 511.6,109.2 509.43,110.59 510.08,108.09 508.08,106.46 510.66,106.31" fill="#d2e0f0" stroke="#2b5f9c" stroke-width="0.7"/>
<polygon points="517.4,98.3 518.34,100.71 520.92,100.86 518.92,102.49 519.57,104.99 517.4,103.6 515.23,104.99 515.88,102.49 513.88,100.86 516.46,100.71" fill="#d2e0f0" stroke="#2b5f9c" stroke-width="0.7"/>
<path d="M74,287.4 C77.05,284.58 86.2,275.73 92.3,270.5 C98.4,265.27 104.55,259.42 110.6,256 C116.65,252.58 122.55,249.88 128.6,250 C134.65,250.12 140.9,251.4 146.9,256.7 C152.9,262 158.62,271.78 164.6,281.8 C170.58,291.82 176.75,308 182.8,316.8 C188.85,325.6 194.87,333.68 200.9,334.6 C206.93,335.52 212.92,327.62 219,322.3 C225.08,316.98 233.15,306.75 237.4,302.7 C241.65,298.65 242.43,299.7 244.5,298 C246.57,296.3 248.4,294.33 249.8,292.5 C251.2,290.67 252.18,288.7 252.9,287 C253.62,285.3 253.9,283.08 254.1,282.3" fill="none" stroke="#2b5f9c" stroke-width="1.35" stroke-linejoin="round"/>
<path d="M74,287.4 C75.87,288.48 81.6,291.22 85.2,293.9 C88.8,296.58 92,300.6 95.6,303.5 C99.2,306.4 103.08,309 106.8,311.3 C110.52,313.6 114.27,315.52 117.9,317.3 C121.53,319.08 125.08,321.22 128.6,322 C132.12,322.78 135.4,323.23 139,322 C142.6,320.77 146.48,318.25 150.2,314.6 C153.92,310.95 157.68,305.72 161.3,300.1 C164.92,294.48 168.32,287 171.9,280.9 C175.48,274.8 179.22,268.33 182.8,263.5 C186.38,258.67 189.77,254.08 193.4,251.9 C197.03,249.72 200.88,249.28 204.6,250.4 C208.32,251.52 211.98,255.45 215.7,258.6 C219.42,261.75 223.28,266.28 226.9,269.3 C230.52,272.32 233.9,274.53 237.4,276.7 C240.9,278.87 245.12,279.82 247.9,282.3 C250.68,284.78 253.07,290.05 254.1,291.6" fill="none" stroke="#ff1f1f" stroke-width="1.35" stroke-linejoin="round"/>
<polygon points="74,283.7 74.94,286.11 77.52,286.26 75.52,287.89 76.17,290.39 74,289 71.83,290.39 72.48,287.89 70.48,286.26 73.06,286.11" fill="#d2e0f0" stroke="#2b5f9c" stroke-width="0.7"/>
<polygon points="92.3,266.8 93.24,269.21 95.82,269.36 93.82,270.99 94.47,273.49 92.3,272.1 90.13,273.49 90.78,270.99 88.78,269.36 91.36,269.21" fill="#d2e0f0" stroke="#2b5f9c" stroke-width="0.7"/>
<polygon points="110.6,252.3 111.54,254.71 114.12,254.86 112.12,256.49 112.77,258.99 110.6,257.6 108.43,258.99 109.08,256.49 107.08,254.86 109.66,254.71" fill="#d2e0f0" stroke="#2b5f9c" stroke-width="0.7"/>
<polygon points="128.6,246.3 129.54,248.71 132.12,248.86 130.12,250.49 130.77,252.99 128.6,251.6 126.43,252.99 127.08,250.49 125.08,248.86 127.66,248.71" fill="#d2e0f0" stroke="#2b5f9c" stroke-width="0.7"/>
<polygon points="146.9,253 147.84,255.41 150.42,255.56 148.42,257.19 149.07,259.69 146.9,258.3 144.73,259.69 145.38,257.19 143.38,255.56 145.96,255.41" fill="#d2e0f0" stroke="#2b5f9c" stroke-width="0.7"/>
<polygon points="164.6,278.1 165.54,280.51 168.12,280.66 166.12,282.29 166.77,284.79 164.6,283.4 162.43,284.79 163.08,282.29 161.08,280.66 163.66,280.51" fill="#d2e0f0" stroke="#2b5f9c" stroke-width="0.7"/>
<polygon points="182.8,313.1 183.74,315.51 186.32,315.66 184.32,317.29 184.97,319.79 182.8,318.4 180.63,319.79 181.28,317.29 179.28,315.66 181.86,315.51" fill="#d2e0f0" stroke="#2b5f9c" stroke-width="0.7"/>
<polygon points="200.9,330.9 201.84,333.31 204.42,333.46 202.42,335.09 203.07,337.59 200.9,336.2 198.73,337.59 199.38,335.09 197.38,333.46 199.96,333.31" fill="#d2e0f0" stroke="#2b5f9c" stroke-width="0.7"/>
<polygon points="219,318.6 219.94,321.01 222.52,321.16 220.52,322.79 221.17,325.29 219,323.9 216.83,325.29 217.48,322.79 215.48,321.16 218.06,321.01" fill="#d2e0f0" stroke="#2b5f9c" stroke-width="0.7"/>
<polygon points="237.4,299 238.34,301.41 240.92,301.56 238.92,303.19 239.57,305.69 237.4,304.3 235.23,305.69 235.88,303.19 233.88,301.56 236.46,301.41" fill="#d2e0f0" stroke="#2b5f9c" stroke-width="0.7"/>
<polygon points="254.1,278.6 255.04,281.01 257.62,281.16 255.62,282.79 256.27,285.29 254.1,283.9 251.93,285.29 252.58,282.79 250.58,281.16 253.16,281.01" fill="#d2e0f0" stroke="#2b5f9c" stroke-width="0.7"/>
<polygon points="74,283.7 74.94,286.11 77.52,286.26 75.52,287.89 76.17,290.39 74,289 71.83,290.39 72.48,287.89 70.48,286.26 73.06,286.11" fill="#ffd0d0" stroke="#ff1f1f" stroke-width="0.7"/>
<polygon points="85.2,290.2 86.14,292.61 88.72,292.76 86.72,294.39 87.37,296.89 85.2,295.5 83.03,296.89 83.68,294.39 81.68,292.76 84.26,292.61" fill="#ffd0d0" stroke="#ff1f1f" stroke-width="0.7"/>
<polygon points="95.6,299.8 96.54,302.21 99.12,302.36 97.12,303.99 97.77,306.49 95.6,305.1 93.43,306.49 94.08,303.99 92.08,302.36 94.66,302.21" fill="#ffd0d0" stroke="#ff1f1f" stroke-width="0.7"/>
<polygon points="106.8,307.6 107.74,310.01 110.32,310.16 108.32,311.79 108.97,314.29 106.8,312.9 104.63,314.29 105.28,311.79 103.28,310.16 105.86,310.01" fill="#ffd0d0" stroke="#ff1f1f" stroke-width="0.7"/>
<polygon points="117.9,313.6 118.84,316.01 121.42,316.16 119.42,317.79 120.07,320.29 117.9,318.9 115.73,320.29 116.38,317.79 114.38,316.16 116.96,316.01" fill="#ffd0d0" stroke="#ff1f1f" stroke-width="0.7"/>
<polygon points="128.6,318.3 129.54,320.71 132.12,320.86 130.12,322.49 130.77,324.99 128.6,323.6 126.43,324.99 127.08,322.49 125.08,320.86 127.66,320.71" fill="#ffd0d0" stroke="#ff1f1f" stroke-width="0.7"/>
<polygon points="139,318.3 139.94,320.71 142.52,320.86 140.52,322.49 141.17,324.99 139,323.6 136.83,324.99 137.48,322.49 135.48,320.86 138.06,320.71" fill="#ffd0d0" stroke="#ff1f1f" stroke-width="0.7"/>
<polygon points="150.2,310.9 151.14,313.31 153.72,313.46 151.72,315.09 152.37,317.59 150.2,316.2 148.03,317.59 148.68,315.09 146.68,313.46 149.26,313.31" fill="#ffd0d0" stroke="#ff1f1f" stroke-width="0.7"/>
<polygon points="161.3,296.4 162.24,298.81 164.82,298.96 162.82,300.59 163.47,303.09 161.3,301.7 159.13,303.09 159.78,300.59 157.78,298.96 160.36,298.81" fill="#ffd0d0" stroke="#ff1f1f" stroke-width="0.7"/>
<polygon points="171.9,277.2 172.84,279.61 175.42,279.76 173.42,281.39 174.07,283.89 171.9,282.5 169.73,283.89 170.38,281.39 168.38,279.76 170.96,279.61" fill="#ffd0d0" stroke="#ff1f1f" stroke-width="0.7"/>
<polygon points="182.8,259.8 183.74,262.21 186.32,262.36 184.32,263.99 184.97,266.49 182.8,265.1 180.63,266.49 181.28,263.99 179.28,262.36 181.86,262.21" fill="#ffd0d0" stroke="#ff1f1f" stroke-width="0.7"/>
<polygon points="193.4,248.2 194.34,250.61 196.92,250.76 194.92,252.39 195.57,254.89 193.4,253.5 191.23,254.89 191.88,252.39 189.88,250.76 192.46,250.61" fill="#ffd0d0" stroke="#ff1f1f" stroke-width="0.7"/>
<polygon points="204.6,246.7 205.54,249.11 208.12,249.26 206.12,250.89 206.77,253.39 204.6,252 202.43,253.39 203.08,250.89 201.08,249.26 203.66,249.11" fill="#ffd0d0" stroke="#ff1f1f" stroke-width="0.7"/>
<polygon points="215.7,254.9 216.64,257.31 219.22,257.46 217.22,259.09 217.87,261.59 215.7,260.2 213.53,261.59 214.18,259.09 212.18,257.46 214.76,257.31" fill="#ffd0d0" stroke="#ff1f1f" stroke-width="0.7"/>
<polygon points="226.9,265.6 227.84,268.01 230.42,268.16 228.42,269.79 229.07,272.29 226.9,270.9 224.73,272.29 225.38,269.79 223.38,268.16 225.96,268.01" fill="#ffd0d0" stroke="#ff1f1f" stroke-width="0.7"/>
<polygon points="237.4,273 238.34,275.41 240.92,275.56 238.92,277.19 239.57,279.69 237.4,278.3 235.23,279.69 235.88,277.19 233.88,275.56 236.46,275.41" fill="#ffd0d0" stroke="#ff1f1f" stroke-width="0.7"/>
<polygon points="247.9,278.6 248.84,281.01 251.42,281.16 249.42,282.79 250.07,285.29 247.9,283.9 245.73,285.29 246.38,282.79 244.38,281.16 246.96,281.01" fill="#ffd0d0" stroke="#ff1f1f" stroke-width="0.7"/>
<polygon points="254.1,287.9 255.04,290.31 257.62,290.46 255.62,292.09 256.27,294.59 254.1,293.2 251.93,294.59 252.58,292.09 250.58,290.46 253.16,290.31" fill="#ffd0d0" stroke="#ff1f1f" stroke-width="0.7"/>
<path d="M338,289 C341.17,288.43 350.83,287 357,285.6 C363.17,284.2 368.9,281.93 375,280.6 C381.1,279.27 387.5,278.13 393.6,277.6 C399.7,277.07 405.45,276.65 411.6,277.4 C417.75,278.15 424.47,278.8 430.5,282.1 C436.53,285.4 441.87,292.35 447.8,297.2 C453.73,302.05 460.12,309.45 466.1,311.2 C472.08,312.95 477.77,310.28 483.7,307.7 C489.63,305.12 497.15,297.98 501.7,295.7 C506.25,293.42 508.58,294.75 511,294 C513.42,293.25 514.8,292.52 516.2,291.2 C517.6,289.88 518.87,286.95 519.4,286.1" fill="none" stroke="#2b5f9c" stroke-width="1.35" stroke-linejoin="round"/>
<path d="M339,292.4 C340.77,290.27 346.03,283.67 349.6,279.6 C353.17,275.53 356.77,271.77 360.4,268 C364.03,264.23 367.73,259.67 371.4,257 C375.07,254.33 378.7,252.57 382.4,252 C386.1,251.43 389.9,252.6 393.6,253.6 C397.3,254.6 400.93,256.43 404.6,258 C408.27,259.57 411.97,260.93 415.6,263 C419.23,265.07 422.83,266.97 426.4,270.4 C429.97,273.83 433.5,277.8 437,283.6 C440.5,289.4 443.82,297.52 447.4,305.2 C450.98,312.88 454.8,322.77 458.5,329.7 C462.2,336.63 466,343.68 469.6,346.8 C473.2,349.92 476.5,350.37 480.1,348.4 C483.7,346.43 487.48,339.97 491.2,335 C494.92,330.03 498.75,323.68 502.4,318.6 C506.05,313.52 510.4,310.3 513.1,304.5 C515.8,298.7 517.68,287.25 518.6,283.8" fill="none" stroke="#ff1f1f" stroke-width="1.35" stroke-linejoin="round"/>
<polygon points="338,285.3 338.94,287.71 341.52,287.86 339.52,289.49 340.17,291.99 338,290.6 335.83,291.99 336.48,289.49 334.48,287.86 337.06,287.71" fill="#d2e0f0" stroke="#2b5f9c" stroke-width="0.7"/>
<polygon points="357,281.9 357.94,284.31 360.52,284.46 358.52,286.09 359.17,288.59 357,287.2 354.83,288.59 355.48,286.09 353.48,284.46 356.06,284.31" fill="#d2e0f0" stroke="#2b5f9c" stroke-width="0.7"/>
<polygon points="375,276.9 375.94,279.31 378.52,279.46 376.52,281.09 377.17,283.59 375,282.2 372.83,283.59 373.48,281.09 371.48,279.46 374.06,279.31" fill="#d2e0f0" stroke="#2b5f9c" stroke-width="0.7"/>
<polygon points="393.6,273.9 394.54,276.31 397.12,276.46 395.12,278.09 395.77,280.59 393.6,279.2 391.43,280.59 392.08,278.09 390.08,276.46 392.66,276.31" fill="#d2e0f0" stroke="#2b5f9c" stroke-width="0.7"/>
<polygon points="411.6,273.7 412.54,276.11 415.12,276.26 413.12,277.89 413.77,280.39 411.6,279 409.43,280.39 410.08,277.89 408.08,276.26 410.66,276.11" fill="#d2e0f0" stroke="#2b5f9c" stroke-width="0.7"/>
<polygon points="430.5,278.4 431.44,280.81 434.02,280.96 432.02,282.59 432.67,285.09 430.5,283.7 428.33,285.09 428.98,282.59 426.98,280.96 429.56,280.81" fill="#d2e0f0" stroke="#2b5f9c" stroke-width="0.7"/>
<polygon points="447.8,293.5 448.74,295.91 451.32,296.06 449.32,297.69 449.97,300.19 447.8,298.8 445.63,300.19 446.28,297.69 444.28,296.06 446.86,295.91" fill="#d2e0f0" stroke="#2b5f9c" stroke-width="0.7"/>
<polygon points="466.1,307.5 467.04,309.91 469.62,310.06 467.62,311.69 468.27,314.19 466.1,312.8 463.93,314.19 464.58,311.69 462.58,310.06 465.16,309.91" fill="#d2e0f0" stroke="#2b5f9c" stroke-width="0.7"/>
<polygon points="483.7,304 484.64,306.41 487.22,306.56 485.22,308.19 485.87,310.69 483.7,309.3 481.53,310.69 482.18,308.19 480.18,306.56 482.76,306.41" fill="#d2e0f0" stroke="#2b5f9c" stroke-width="0.7"/>
<polygon points="501.7,292 502.64,294.41 505.22,294.56 503.22,296.19 503.87,298.69 501.7,297.3 499.53,298.69 500.18,296.19 498.18,294.56 500.76,294.41" fill="#d2e0f0" stroke="#2b5f9c" stroke-width="0.7"/>
<polygon points="519.4,282.4 520.34,284.81 522.92,284.96 520.92,286.59 521.57,289.09 519.4,287.7 517.23,289.09 517.88,286.59 515.88,284.96 518.46,284.81" fill="#d2e0f0" stroke="#2b5f9c" stroke-width="0.7"/>
<polygon points="339,288.7 339.94,291.11 342.52,291.26 340.52,292.89 341.17,295.39 339,294 336.83,295.39 337.48,292.89 335.48,291.26 338.06,291.11" fill="#ffd0d0" stroke="#ff1f1f" stroke-width="0.7"/>
<polygon points="349.6,275.9 350.54,278.31 353.12,278.46 351.12,280.09 351.77,282.59 349.6,281.2 347.43,282.59 348.08,280.09 346.08,278.46 348.66,278.31" fill="#ffd0d0" stroke="#ff1f1f" stroke-width="0.7"/>
<polygon points="360.4,264.3 361.34,266.71 363.92,266.86 361.92,268.49 362.57,270.99 360.4,269.6 358.23,270.99 358.88,268.49 356.88,266.86 359.46,266.71" fill="#ffd0d0" stroke="#ff1f1f" stroke-width="0.7"/>
<polygon points="371.4,253.3 372.34,255.71 374.92,255.86 372.92,257.49 373.57,259.99 371.4,258.6 369.23,259.99 369.88,257.49 367.88,255.86 370.46,255.71" fill="#ffd0d0" stroke="#ff1f1f" stroke-width="0.7"/>
<polygon points="382.4,248.3 383.34,250.71 385.92,250.86 383.92,252.49 384.57,254.99 382.4,253.6 380.23,254.99 380.88,252.49 378.88,250.86 381.46,250.71" fill="#ffd0d0" stroke="#ff1f1f" stroke-width="0.7"/>
<polygon points="393.6,249.9 394.54,252.31 397.12,252.46 395.12,254.09 395.77,256.59 393.6,255.2 391.43,256.59 392.08,254.09 390.08,252.46 392.66,252.31" fill="#ffd0d0" stroke="#ff1f1f" stroke-width="0.7"/>
<polygon points="404.6,254.3 405.54,256.71 408.12,256.86 406.12,258.49 406.77,260.99 404.6,259.6 402.43,260.99 403.08,258.49 401.08,256.86 403.66,256.71" fill="#ffd0d0" stroke="#ff1f1f" stroke-width="0.7"/>
<polygon points="415.6,259.3 416.54,261.71 419.12,261.86 417.12,263.49 417.77,265.99 415.6,264.6 413.43,265.99 414.08,263.49 412.08,261.86 414.66,261.71" fill="#ffd0d0" stroke="#ff1f1f" stroke-width="0.7"/>
<polygon points="426.4,266.7 427.34,269.11 429.92,269.26 427.92,270.89 428.57,273.39 426.4,272 424.23,273.39 424.88,270.89 422.88,269.26 425.46,269.11" fill="#ffd0d0" stroke="#ff1f1f" stroke-width="0.7"/>
<polygon points="437,279.9 437.94,282.31 440.52,282.46 438.52,284.09 439.17,286.59 437,285.2 434.83,286.59 435.48,284.09 433.48,282.46 436.06,282.31" fill="#ffd0d0" stroke="#ff1f1f" stroke-width="0.7"/>
<polygon points="447.4,301.5 448.34,303.91 450.92,304.06 448.92,305.69 449.57,308.19 447.4,306.8 445.23,308.19 445.88,305.69 443.88,304.06 446.46,303.91" fill="#ffd0d0" stroke="#ff1f1f" stroke-width="0.7"/>
<polygon points="458.5,326 459.44,328.41 462.02,328.56 460.02,330.19 460.67,332.69 458.5,331.3 456.33,332.69 456.98,330.19 454.98,328.56 457.56,328.41" fill="#ffd0d0" stroke="#ff1f1f" stroke-width="0.7"/>
<polygon points="469.6,343.1 470.54,345.51 473.12,345.66 471.12,347.29 471.77,349.79 469.6,348.4 467.43,349.79 468.08,347.29 466.08,345.66 468.66,345.51" fill="#ffd0d0" stroke="#ff1f1f" stroke-width="0.7"/>
<polygon points="480.1,344.7 481.04,347.11 483.62,347.26 481.62,348.89 482.27,351.39 480.1,350 477.93,351.39 478.58,348.89 476.58,347.26 479.16,347.11" fill="#ffd0d0" stroke="#ff1f1f" stroke-width="0.7"/>
<polygon points="491.2,331.3 492.14,333.71 494.72,333.86 492.72,335.49 493.37,337.99 491.2,336.6 489.03,337.99 489.68,335.49 487.68,333.86 490.26,333.71" fill="#ffd0d0" stroke="#ff1f1f" stroke-width="0.7"/>
<polygon points="502.4,314.9 503.34,317.31 505.92,317.46 503.92,319.09 504.57,321.59 502.4,320.2 500.23,321.59 500.88,319.09 498.88,317.46 501.46,317.31" fill="#ffd0d0" stroke="#ff1f1f" stroke-width="0.7"/>
<polygon points="513.1,300.8 514.04,303.21 516.62,303.36 514.62,304.99 515.27,307.49 513.1,306.1 510.93,307.49 511.58,304.99 509.58,303.36 512.16,303.21" fill="#ffd0d0" stroke="#ff1f1f" stroke-width="0.7"/>
<polygon points="518.6,280.1 519.54,282.51 522.12,282.66 520.12,284.29 520.77,286.79 518.6,285.4 516.43,286.79 517.08,284.29 515.08,282.66 517.66,282.51" fill="#ffd0d0" stroke="#ff1f1f" stroke-width="0.7"/>
<!-- panel labels -->
<text x="11.9" y="21.1" class="pl">(a)</text>
<text x="287.8" y="21.5" class="pl">(b)</text>
<text x="25.8" y="205.7" class="pl">(c)</text>
<text x="287.8" y="205.2" class="pl">(d)</text>
<text x="69.8" y="48.2" class="ty">type I</text>
<text x="334.6" y="47.6" class="ty">type II</text>
<text x="70.7" y="232.4" class="ty">type III</text>
<text x="335.4" y="232.7" class="ty">type IV</text>
<text x="77.2" y="154.4" style="font-size:10.5px;fill:#222;stroke:#222;stroke-width:0.35px">−1.0</text>
<text transform="translate(13.9,212.2) rotate(-90)" text-anchor="middle" style="font-size:12.6px">Magnetic load ratio</text>
<text x="244.4" y="394.8" style="font-size:12.7px">arc length(μm)</text>
<!-- legends -->
<path d="M198.2,16.8 H227.6" stroke="#2b5f9c" stroke-width="1.4"/>
<polygon points="212.7,12.9 213.64,15.31 216.22,15.46 214.22,17.09 214.87,19.59 212.7,18.2 210.53,19.59 211.18,17.09 209.18,15.46 211.76,15.31" fill="#d2e0f0" stroke="#2b5f9c" stroke-width="0.7"/>
<text x="230.9" y="20.8" class="lg">F</text><text x="238.4" y="25.4" class="sb">mx</text>
<text x="252.4" y="22.8" class="sl">/</text>
<text x="258.7" y="20.8" class="lg">F</text><text x="266.3" y="24.6" class="s3">3</text>
<path d="M462.9,16.8 H492.5" stroke="#ff1f1f" stroke-width="1.4"/>
<polygon points="477.6,12.8 478.54,15.21 481.12,15.36 479.12,16.99 479.77,19.49 477.6,18.1 475.43,19.49 476.08,16.99 474.08,15.36 476.66,15.21" fill="#ffd0d0" stroke="#ff1f1f" stroke-width="0.7"/>
<text x="496" y="20.8" class="lg">F</text><text x="503.3" y="25.4" class="sb">my</text>
<text x="517.5" y="22.8" class="sl">/</text>
<text x="523.6" y="20.8" class="lg">F</text><text x="531.2" y="24.6" class="s3">3</text>
</svg></div></body></html>
